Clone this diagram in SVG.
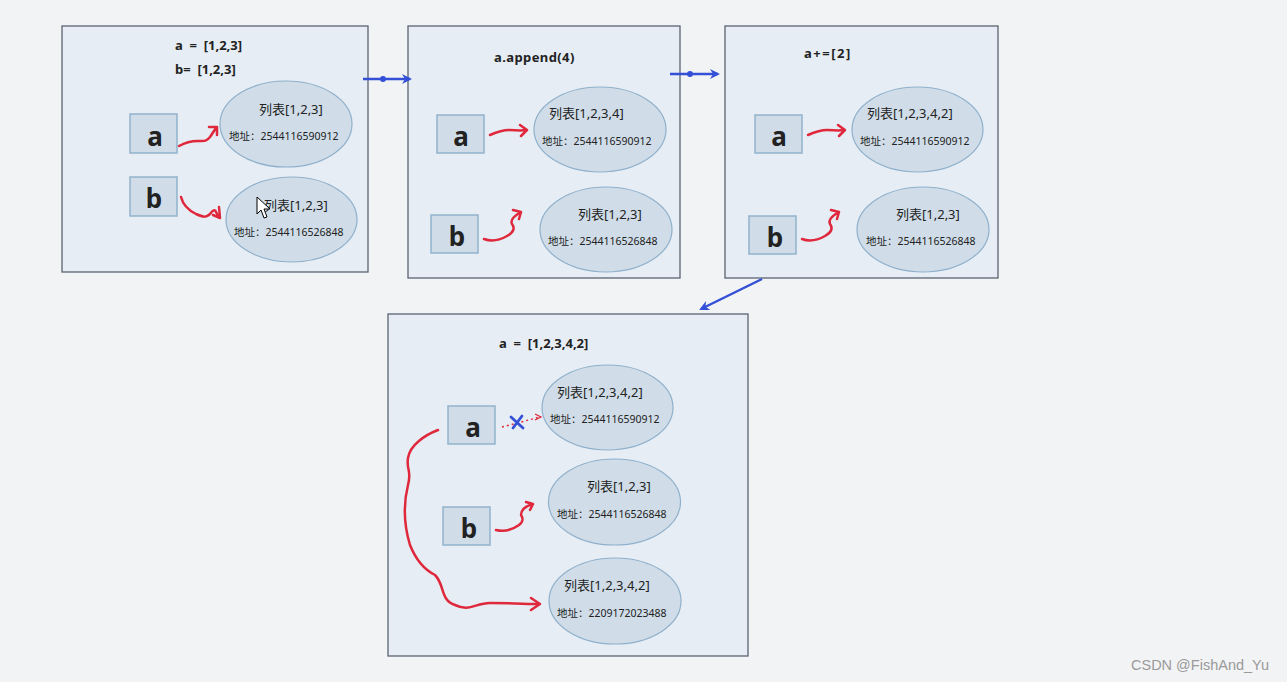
<svg xmlns="http://www.w3.org/2000/svg" width="1287" height="682" viewBox="0 0 1287 682">
<defs>
<style>
.panel{fill:#e6edf4;stroke:#5b6470;stroke-width:1.3}
.var{fill:#d0dde8;stroke:#92b2cc;stroke-width:1.5}
.obj{fill:#d0dde8;stroke:#8fb0cb;stroke-width:1.2}
.t{font-family:"Noto Sans","Noto Sans CJK SC",sans-serif;fill:#222}
.code{font-size:13px;font-weight:bold;white-space:pre}
.letter{font-size:26px;font-weight:bold;text-anchor:middle}
.lst{font-size:13px}
.addr{font-size:10.5px}
.red{fill:none;stroke:#e0283c;stroke-width:2.5;stroke-linecap:round;stroke-linejoin:round}
.blue{fill:none;stroke:#3450d6;stroke-width:2.5}
</style>
<marker id="ah" markerWidth="10" markerHeight="10" refX="8" refY="5" orient="auto" markerUnits="userSpaceOnUse">
<path d="M0,0 L10,5 L0,10 L3,5 z" fill="#3450d6"/>
</marker>
</defs>
<rect width="1287" height="682" fill="#f2f3f5"/>

<g id="panel1">
<rect class="panel" x="62" y="26" width="306" height="246"/>
<text class="t code" x="175" y="50">a  =  [1,2,3]</text>
<text class="t code" x="175" y="74">b=  [1,2,3]</text>
<rect class="var" x="130" y="114" width="47" height="39"/>
<text class="t letter" x="155" y="146">a</text>
<rect class="var" x="130" y="177" width="47" height="39"/>
<text class="t letter" x="154" y="208">b</text>
<ellipse class="obj" cx="286" cy="124" rx="66" ry="43"/>
<text class="t lst" x="259" y="114">列表[1,2,3]</text>
<text class="t addr" x="229" y="140">地址：2544116590912</text>
<ellipse class="obj" cx="291.5" cy="219.5" rx="65.5" ry="42.5"/>
<text class="t lst" x="264" y="210">列表[1,2,3]</text>
<text class="t addr" x="234" y="236">地址：2544116526848</text>
<path d="M257,197 L257,214 L261,210 L264,218 L267,217 L264,209 L270,209 Z" fill="#fff" stroke="#000" stroke-width="1"/>
</g>

<g id="panel2">
<rect class="panel" x="408" y="26" width="272" height="252"/>
<text class="t code" x="494" y="62" letter-spacing="0.4">a.append(4)</text>
<rect class="var" x="437" y="115" width="47" height="38"/>
<text class="t letter" x="461" y="146">a</text>
<rect class="var" x="431" y="215" width="47" height="38"/>
<text class="t letter" x="457" y="246">b</text>
<ellipse class="obj" cx="600" cy="129.5" rx="66" ry="42.5"/>
<text class="t lst" x="549" y="118">列表[1,2,3,4]</text>
<text class="t addr" x="542" y="145">地址：2544116590912</text>
<ellipse class="obj" cx="606" cy="229.5" rx="66" ry="42.5"/>
<text class="t lst" x="578" y="219">列表[1,2,3]</text>
<text class="t addr" x="548" y="245">地址：2544116526848</text>
</g>

<g id="panel3">
<rect class="panel" x="725" y="26" width="273" height="252"/>
<text class="t code" x="804" y="58" letter-spacing="1.5">a+=[2]</text>
<rect class="var" x="755" y="115" width="47" height="38"/>
<text class="t letter" x="779" y="146">a</text>
<rect class="var" x="749" y="216" width="47" height="38"/>
<text class="t letter" x="775" y="247">b</text>
<ellipse class="obj" cx="917.5" cy="129.5" rx="65.5" ry="42.5"/>
<text class="t lst" x="867" y="118">列表[1,2,3,4,2]</text>
<text class="t addr" x="860" y="145">地址：2544116590912</text>
<ellipse class="obj" cx="923" cy="229.5" rx="66" ry="42.5"/>
<text class="t lst" x="896" y="219">列表[1,2,3]</text>
<text class="t addr" x="866" y="245">地址：2544116526848</text>
</g>

<g id="panel4">
<rect class="panel" x="388" y="314" width="360" height="342"/>
<text class="t code" x="499" y="348">a  =  [1,2,3,4,2]</text>
<rect class="var" x="448" y="406" width="47" height="38"/>
<text class="t letter" x="473" y="437">a</text>
<rect class="var" x="443" y="507" width="47" height="38"/>
<text class="t letter" x="469" y="538">b</text>
<ellipse class="obj" cx="607.5" cy="407.5" rx="65.5" ry="42.5"/>
<text class="t lst" x="557" y="397">列表[1,2,3,4,2]</text>
<text class="t addr" x="550" y="423">地址：2544116590912</text>
<ellipse class="obj" cx="614.5" cy="502" rx="66" ry="43"/>
<text class="t lst" x="587" y="491">列表[1,2,3]</text>
<text class="t addr" x="557" y="518">地址：2544116526848</text>
<ellipse class="obj" cx="615" cy="601" rx="66" ry="43"/>
<text class="t lst" x="564" y="590">列表[1,2,3,4,2]</text>
<text class="t addr" x="557" y="617">地址：2209172023488</text>
</g>

<g id="connectors">
<line class="blue" x1="363" y1="79" x2="410" y2="79" marker-end="url(#ah)"/>
<circle cx="383" cy="79" r="3" fill="#3450d6"/>
<line class="blue" x1="670" y1="74" x2="718" y2="74" marker-end="url(#ah)"/>
<circle cx="690" cy="74" r="3" fill="#3450d6"/>
<line class="blue" x1="762" y1="279" x2="701" y2="309" marker-end="url(#ah)"/>

<path class="red" d="M179,146 C186,142 192,141 198,141 C204,141 206,142 210,137 C213,133 214,130 217,127 M209,127 L217,127 L217,135"/>
<path class="red" d="M181,197 C183,205 188,210 196,214 C203,217 206,218 210,214 C213,210 215,209 216,212 C217,214 218,216 220,218 M213,215 L220,218 L219,207"/>
<path class="red" d="M490,135 C497,132 502,130 509,130 C516,130 520,131 526,130 M520,125 L527,130 L521,136"/>
<path class="red" d="M484,239 C492,242 500,240 507,236 C514,232 515,228 512,224 C510,220 514,216 521,212 M513,210 L521,212 L519,219"/>
<path class="red" d="M808,135 C815,132 820,130 827,130 C834,130 838,131 844,130 M838,125 L845,130 L839,136"/>
<path class="red" d="M802,239 C810,242 818,240 825,236 C832,232 833,228 830,224 C828,220 832,216 839,212 M831,210 L839,212 L837,219"/>

<path d="M502,427 L540,417" fill="none" stroke="#e0283c" stroke-width="1.5" stroke-dasharray="2,3"/>
<path d="M535,414 L541,417 L535,420" fill="none" stroke="#e0283c" stroke-width="1.3"/>
<path d="M511,417 L523,428 M522,416 L513,428" fill="none" stroke="#3450d6" stroke-width="2.8" stroke-linecap="round"/>
<path class="red" d="M496,530 C504,532 512,530 519,525 C524,521 523,518 521,515 C521,510 526,506 533,504 M526,502 L533,504 L530,510"/>
<path class="red" d="M438,430 C425,435 410,445 408,458 C406,470 412,470 408,485 C403,505 404,525 410,545 C416,560 425,570 435,575 C445,585 440,600 455,605 C470,612 475,603 490,603 C510,603 520,604 540,604 M531,598 L540,604 L531,610"/>
</g>

<text x="1131" y="670" font-family="Liberation Sans, Arial, sans-serif" font-size="14.5" fill="#9a9a9a">CSDN @FishAnd_Yu</text>
</svg>
